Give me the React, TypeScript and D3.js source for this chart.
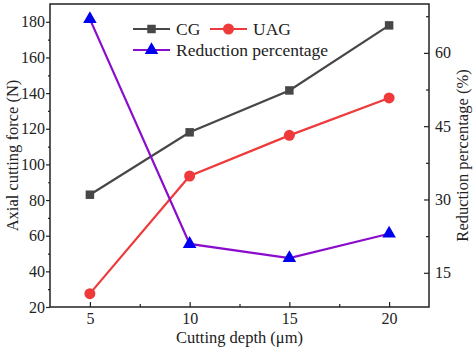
import React, { useEffect, useRef } from 'react';
import * as d3 from 'd3';

const depths = [5, 10, 15, 20];
const cgForce = [83, 118, 141.5, 178];
const uagForce = [27.5, 93.5, 116.3, 137.3];
const reduction = [66.9, 20.9, 18.0, 23.0];

const xTicks = [5, 10, 15, 20];
const xMinor = [7.5, 12.5, 17.5];
const leftTicks = [20, 40, 60, 80, 100, 120, 140, 160, 180];
const leftMinor = [30, 50, 70, 90, 110, 130, 150, 170];
const rightTicks = [15, 30, 45, 60];
const rightMinor = [22.5, 37.5, 52.5, 67.5];

const width = 474;
const height = 351;
const margin = { top: 4, right: 45, bottom: 44, left: 50 };
const font = '"Liberation Serif", "Times New Roman", serif';

const App = () => {
  const svgRef = useRef<SVGSVGElement>(null);

  useEffect(() => {
    const svg = d3.select(svgRef.current);
    svg.selectAll('*').remove();

    const innerWidth = width - margin.left - margin.right;
    const innerHeight = height - margin.top - margin.bottom;

    const x = d3.scaleLinear().domain([3, 22]).range([0, innerWidth]);
    const yLeft = d3.scaleLinear().domain([20, 190]).range([innerHeight, 0]);
    const yRight = d3.scaleLinear().domain([8, 70]).range([innerHeight, 0]);

    const g = svg.append('g').attr('transform', `translate(${margin.left},${margin.top})`);

    // frame
    g.append('rect')
      .attr('width', innerWidth)
      .attr('height', innerHeight)
      .attr('fill', 'none')
      .attr('stroke', '#222')
      .attr('stroke-width', 1.5);

    const styleAxis = (sel: any) => {
      sel.select('.domain').remove();
      sel.selectAll('line').attr('stroke', '#222').attr('stroke-width', 1.2);
      sel.selectAll('text')
        .attr('font-family', font)
        .attr('font-size', 16)
        .attr('fill', '#222');
    };

    // bottom axis, ticks inward
    g.append('g')
      .attr('transform', `translate(0,${innerHeight})`)
      .call(d3.axisBottom(x).tickValues(xTicks).tickSizeInner(-5).tickSizeOuter(0).tickPadding(6).tickFormat(d3.format('d')))
      .call(styleAxis);
    g.append('g')
      .attr('transform', `translate(0,${innerHeight})`)
      .call(d3.axisBottom(x).tickValues(xMinor).tickSizeInner(-3).tickSizeOuter(0).tickFormat(() => ''))
      .call(styleAxis);

    // left axis, ticks outward
    g.append('g')
      .call(d3.axisLeft(yLeft).tickValues(leftTicks).tickSizeInner(4).tickSizeOuter(0).tickPadding(1))
      .call(styleAxis);
    g.append('g')
      .call(d3.axisLeft(yLeft).tickValues(leftMinor).tickSizeInner(2).tickSizeOuter(0).tickFormat(() => ''))
      .call(styleAxis);

    // right axis, ticks inward
    g.append('g')
      .attr('transform', `translate(${innerWidth},0)`)
      .call(d3.axisRight(yRight).tickValues(rightTicks).tickSizeInner(-5).tickSizeOuter(0).tickPadding(6))
      .call(styleAxis);
    g.append('g')
      .attr('transform', `translate(${innerWidth},0)`)
      .call(d3.axisRight(yRight).tickValues(rightMinor).tickSizeInner(-3).tickSizeOuter(0).tickFormat(() => ''))
      .call(styleAxis);

    // axis titles
    svg.append('text')
      .attr('x', margin.left + innerWidth / 2)
      .attr('y', 343)
      .attr('text-anchor', 'middle')
      .attr('font-family', font)
      .attr('font-size', 16.5)
      .attr('fill', '#222')
      .text('Cutting depth (μm)');
    svg.append('text')
      .attr('transform', `translate(18,${margin.top + innerHeight / 2}) rotate(-90)`)
      .attr('text-anchor', 'middle')
      .attr('font-family', font)
      .attr('font-size', 16.5)
      .attr('fill', '#222')
      .text('Axial cutting force (N)');
    svg.append('text')
      .attr('transform', `translate(468,${margin.top + innerHeight / 2}) rotate(-90)`)
      .attr('text-anchor', 'middle')
      .attr('font-family', font)
      .attr('font-size', 16.5)
      .attr('fill', '#222')
      .text('Reduction percentage (%)');

    const cgData = depths.map((d, i) => [x(d), yLeft(cgForce[i])] as [number, number]);
    const uagData = depths.map((d, i) => [x(d), yLeft(uagForce[i])] as [number, number]);
    const redData = depths.map((d, i) => [x(d), yRight(reduction[i])] as [number, number]);
    const line = d3.line();

    const cgColor = '#474747';
    const uagColor = '#ee3a3a';
    const redLine = '#8a0ccc';
    const redMarker = '#0000f0';

    g.append('path').attr('d', line(cgData)).attr('fill', 'none').attr('stroke', cgColor).attr('stroke-width', 2.2);
    g.append('path').attr('d', line(uagData)).attr('fill', 'none').attr('stroke', uagColor).attr('stroke-width', 2.2);
    g.append('path').attr('d', line(redData)).attr('fill', 'none').attr('stroke', redLine).attr('stroke-width', 2.2);

    const square = d3.symbol().type(d3.symbolSquare).size(72);
    const circle = d3.symbol().type(d3.symbolCircle).size(95);
    const triangle = d3.symbol().type(d3.symbolTriangle).size(80);

    g.selectAll('.cg').data(cgData).enter().append('path')
      .attr('d', square).attr('transform', d => `translate(${d[0]},${d[1]})`).attr('fill', cgColor);
    g.selectAll('.uag').data(uagData).enter().append('path')
      .attr('d', circle).attr('transform', d => `translate(${d[0]},${d[1]})`).attr('fill', uagColor);
    g.selectAll('.red').data(redData).enter().append('path')
      .attr('d', triangle).attr('transform', d => `translate(${d[0]},${d[1]})`).attr('fill', redMarker);

    // legend
    const legend = svg.append('g');
    const items = [
      { label: 'CG', x: 133, y: 29, color: cgColor, marker: square, mColor: cgColor },
      { label: 'UAG', x: 210, y: 29, color: uagColor, marker: circle, mColor: uagColor },
      { label: 'Reduction percentage', x: 133, y: 50, color: redLine, marker: triangle, mColor: redMarker },
    ];
    items.forEach(it => {
      legend.append('line')
        .attr('x1', it.x).attr('x2', it.x + 37)
        .attr('y1', it.y).attr('y2', it.y)
        .attr('stroke', it.color).attr('stroke-width', 2.2);
      legend.append('path')
        .attr('d', it.marker)
        .attr('transform', `translate(${it.x + 18.5},${it.y})`)
        .attr('fill', it.mColor);
      legend.append('text')
        .attr('x', it.x + 43)
        .attr('y', it.y)
        .attr('dy', '0.35em')
        .attr('font-family', font)
        .attr('font-size', 17.5)
        .attr('fill', '#222')
        .text(it.label);
    });
  }, []);

  return (
    <svg
      ref={svgRef}
      width={width}
      height={height}
      style={{ position: 'absolute', left: 0, top: 0, display: 'block' }}
    ></svg>
  );
};

export default App;
